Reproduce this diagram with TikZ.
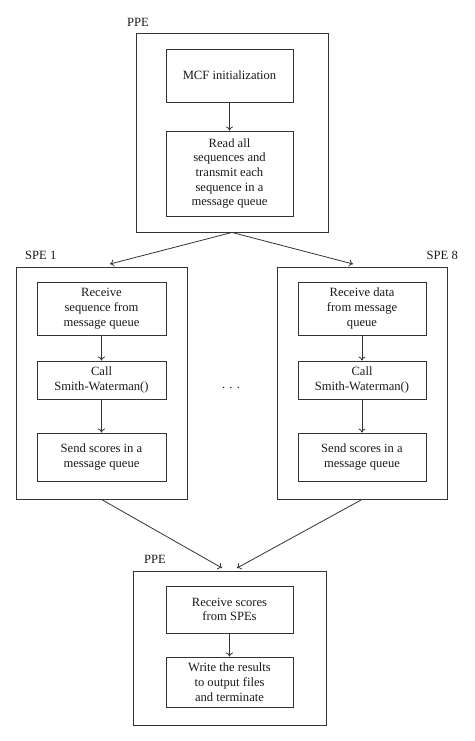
\documentclass[tikz,border=0pt]{standalone}
\usepackage{fontspec}
\setmainfont{Liberation Serif}
\usetikzlibrary{arrows.meta}
\begin{document}
\begin{tikzpicture}[x=1pt,y=-1pt,
  every node/.style={font=\fontsize{12.6}{14.7}\selectfont, text=black!90},
  outer/.style={draw=black!80, line width=0.9pt, inner sep=0pt},
  inner/.style={draw=black!80, line width=0.9pt, align=center, inner sep=0pt},
  lbl/.style={inner sep=0pt},
  arr/.style={draw=black!80, line width=0.8pt, -{To[length=4pt,width=7pt]}}]
\useasboundingbox (0,0) rectangle (474,741);
% top PPE
\node[outer, minimum width=192pt, minimum height=199pt] (ppe1) at (232,132.5) {};
\node[lbl, anchor=base west] (ppe1l) at (127,27) {PPE};
\node[inner, minimum width=127pt, minimum height=53pt] (mcf) at (229.5,75.5) {MCF initialization};
\node[inner, minimum width=127pt, minimum height=85pt] (read) at (229.5,173.5) {Read all\\sequences and\\transmit each\\sequence in a\\message queue};
\draw[arr] (mcf) -- (read);
% SPE 1
\node[outer, minimum width=171pt, minimum height=232pt] (spe1) at (101.5,383) {};
\node[lbl, anchor=base west] (spe1l) at (25,259) {SPE 1};
\node[inner, minimum width=129pt, minimum height=53pt] (s1a) at (101.5,308.5) {Receive\\sequence from\\message queue};
\node[inner, minimum width=129pt, minimum height=38pt] (s1b) at (101.5,380) {Call\\Smith-Waterman()};
\node[inner, minimum width=129pt, minimum height=48pt] (s1c) at (101.5,457) {Send scores in a\\message queue};
\draw[arr] (s1a) -- (s1b);
\draw[arr] (s1b) -- (s1c);
% SPE 8
\node[outer, minimum width=170pt, minimum height=232pt] (spe8) at (362,383) {};
\node[lbl, anchor=base east] (spe8l) at (458,259) {SPE 8};
\node[inner, minimum width=128pt, minimum height=53pt] (s8a) at (362,308.5) {Receive data\\from message\\queue};
\node[inner, minimum width=128pt, minimum height=38pt] (s8b) at (362,380) {Call\\Smith-Waterman()};
\node[inner, minimum width=128pt, minimum height=48pt] (s8c) at (362,457) {Send scores in a\\message queue};
\draw[arr] (s8a) -- (s8b);
\draw[arr] (s8b) -- (s8c);
% dots
\node[lbl] (dots) at (231,388) {.\,\,.\,\,.};
% bottom PPE
\node[outer, minimum width=193pt, minimum height=154pt] (ppe2) at (229.5,648) {};
\node[lbl, anchor=base west] (ppe2l) at (144,563) {PPE};
\node[inner, minimum width=127pt, minimum height=47pt] (r1) at (229.5,609.5) {Receive scores\\from SPEs};
\node[inner, minimum width=127pt, minimum height=50pt] (r2) at (229.5,682) {Write the results\\to output files\\and terminate};
\draw[arr] (r1) -- (r2);
% connectors between groups
\coordinate (t1) at (110,264);
\coordinate (t8) at (353,264);
\coordinate (b1) at (222,568);
\coordinate (b8) at (237,568);
\draw[arr] (ppe1.south) -- (t1);
\draw[arr] (ppe1.south) -- (t8);
\draw[arr] (spe1.south) -- (b1);
\draw[arr] (spe8.south) -- (b8);
\end{tikzpicture}
\end{document}
